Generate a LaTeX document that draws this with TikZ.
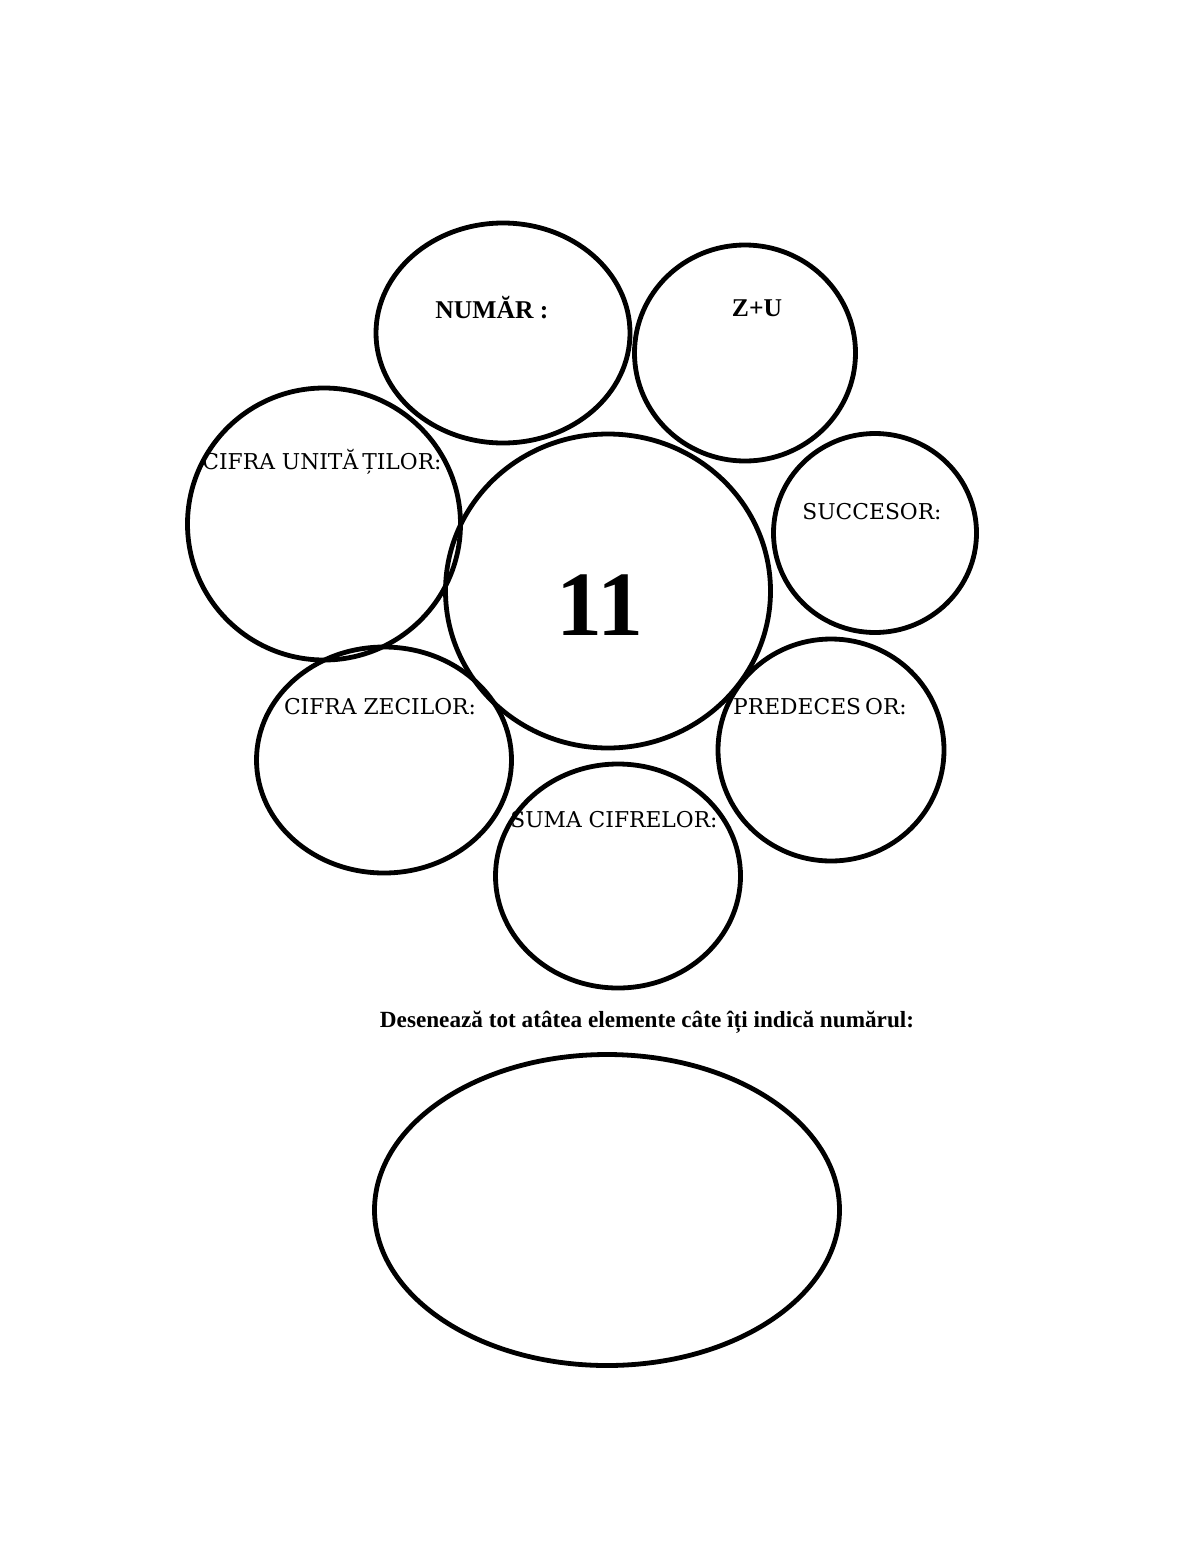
\documentclass[tikz,border=0pt]{standalone}
\usepackage{fontspec}
\setmainfont{Liberation Serif}
\newfontfamily\labelfont{DejaVu Serif}
\usetikzlibrary{shapes.geometric}

\tikzset{
    ring/.style={draw, ellipse, line width=2.4pt, inner sep=0pt},
    labeltext/.style={inner sep=0pt, font=\labelfont\fontsize{10.9}{13}\selectfont},
    headtext/.style={inner sep=0pt, font=\fontsize{12.8}{15}\selectfont\bfseries}
}

\begin{document}
\begin{tikzpicture}[x=0.5pt, y=-0.5pt]
    % Page size in pixels of the sheet
    \def\px{0.5pt}
    \useasboundingbox (0,0) rectangle (1200,1553);

    % Petals round the middle
    \node[ring, minimum width=254*\px, minimum height=220*\px] (numar)   at (503,333) {};
    \node[ring, minimum width=221*\px, minimum height=216*\px] (zu)      at (745,353) {};
    \node[ring, minimum width=273*\px, minimum height=272*\px] (unitati) at (324,524) {};
    \node[ring, minimum width=203*\px, minimum height=199*\px] (succ)    at (875,533) {};
    \node[ring, minimum width=255*\px, minimum height=226*\px] (zeci)    at (384,760) {};
    \node[ring, minimum width=226*\px, minimum height=222*\px] (pred)    at (831,750) {};
    \node[ring, minimum width=245*\px, minimum height=224*\px] (suma)    at (618,876) {};

    % Middle circle with the number
    \node[ring, minimum width=325*\px, minimum height=314*\px] (centru)  at (608,591) {};
    \node[inner sep=0pt, font=\fontsize{46}{50}\selectfont\bfseries] (numarul) at (600,605) {11};

    % Labels inside the petals
    \node[headtext]  (tnumar)   at (492,308) {NUMĂR :};
    \node[headtext]  (tzu)      at (757,308) {Z+U};
    \node[labeltext] (tunitati) at (322,462) {CIFRA UNITĂ\hspace{2pt}ȚILOR:};
    \node[labeltext] (tsucc)    at (872,512) {SUCCESOR:};
    \node[labeltext] (tzeci)    at (380,707) {CIFRA ZECILOR:};
    \node[labeltext] (tpred)    at (820,707) {PREDECES\hspace{2pt}OR:};
    \node[labeltext] (tsuma)    at (614,820) {SUMA CIFRELOR:};

    % Task below the flower
    \node[inner sep=0pt, font=\fontsize{11.6}{14}\selectfont\bfseries] (sarcina) at (647,1022)
        {Desenează tot atâtea elemente câte îți indică numărul:};
    \node[ring, minimum width=465*\px, minimum height=311*\px] (desen) at (607,1210) {};
\end{tikzpicture}
\end{document}
